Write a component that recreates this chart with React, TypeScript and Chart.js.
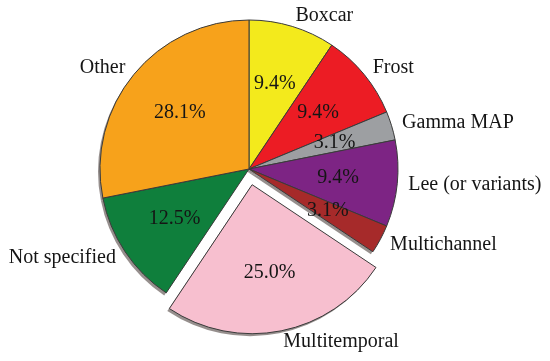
import React, { useEffect, useRef } from "react";
import { Chart, registerables } from "chart.js";
Chart.register(...registerables);

const categories = ["Boxcar", "Frost", "Gamma MAP", "Lee (or variants)", "Multichannel", "Multitemporal", "Not specified", "Other"];
const counts = [3, 3, 1, 3, 1, 8, 4, 9];
const percentLabels = ["9.4%", "9.4%", "3.1%", "9.4%", "3.1%", "25.0%", "12.5%", "28.1%"];
const colors = ["#F3EA1C", "#EC1C24", "#9D9FA2", "#7D2484", "#A62A2A", "#F7BFCF", "#0F7F3C", "#F7A21B"];
const explode = [0, 0, 0, 0, 0, 16, 0, 0];

const FONT = '"Liberation Serif", "Times New Roman", serif';

// Chart.js 4 arc draws offset/4 * (1 + (1 - sin(min(PI, circumference)))) as actual displacement
function chartOffset(i: number) {
  const total = counts.reduce((a, b) => a + b, 0);
  const c = (counts[i] / total) * Math.PI * 2;
  const fix = 1 - Math.sin(Math.min(Math.PI, c));
  return explode[i] === 0 ? 0 : (explode[i] * 4) / (1 + fix);
}

const piePlugin = {
  id: "pieDecor",
  beforeDatasetsDraw(chart: any) {
    const ctx = chart.ctx;
    const meta = chart.getDatasetMeta(0);
    ctx.save();
    ctx.fillStyle = "rgba(105,95,92,0.7)";
    meta.data.forEach((arc: any, i: number) => {
      const { x, y, startAngle, endAngle, outerRadius } = arc.getProps(["x", "y", "startAngle", "endAngle", "outerRadius"], true);
      const mid = (startAngle + endAngle) / 2;
      const off = explode[i];
      const cx = x + Math.cos(mid) * off - 2;
      const cy = y + Math.sin(mid) * off + 2.5;
      ctx.beginPath();
      ctx.moveTo(cx, cy);
      ctx.arc(cx, cy, outerRadius, startAngle, endAngle);
      ctx.closePath();
      ctx.fill();
    });
    ctx.restore();
  },
  afterDatasetsDraw(chart: any) {
    const ctx = chart.ctx;
    const meta = chart.getDatasetMeta(0);
    ctx.save();
    ctx.font = `20px ${FONT}`;
    ctx.fillStyle = "#151515";
    meta.data.forEach((arc: any, i: number) => {
      const { x, y, startAngle, endAngle, outerRadius } = arc.getProps(["x", "y", "startAngle", "endAngle", "outerRadius"], true);
      const mid = (startAngle + endAngle) / 2;
      const off = explode[i];
      const cx = x + Math.cos(mid) * off;
      const cy = y + Math.sin(mid) * off;
      ctx.textAlign = "center";
      ctx.textBaseline = "middle";
      const ri = outerRadius * 0.6;
      ctx.fillText(percentLabels[i], cx + Math.cos(mid) * ri, cy + Math.sin(mid) * ri);
      const ro = outerRadius + 11;
      const ax = cx + Math.cos(mid) * ro;
      const ay = cy + Math.sin(mid) * ro;
      ctx.textAlign = Math.cos(mid) >= 0 ? "left" : "right";
      ctx.fillText(categories[i], ax, ay);
    });
    ctx.restore();
  },
};

export default function App() {
  const ref = useRef<HTMLCanvasElement | null>(null);
  useEffect(() => {
    if (!ref.current) return;
    Chart.defaults.font.family = FONT;
    const chart = new Chart(ref.current, {
      type: "pie",
      data: {
        labels: categories,
        datasets: [
          {
            data: counts,
            backgroundColor: colors,
            borderColor: "#3a3a3a",
            borderWidth: 1,
            offset: counts.map((_, i) => chartOffset(i)),
            hoverOffset: 0,
          } as any,
        ],
      },
      options: {
        responsive: false,
        animation: false,
        radius: 149,
        layout: { padding: { left: 50, right: 102, top: 20, bottom: 43 } },
        plugins: {
          legend: { display: false },
          tooltip: { enabled: false },
        },
        events: [],
      } as any,
      plugins: [piePlugin],
    });
    return () => chart.destroy();
  }, []);
  return (
    <div style={{ position: "absolute", left: 0, top: 0, width: 550, height: 361, background: "#fff" }}>
      <canvas ref={ref} width={550} height={361} style={{ display: "block" }} />
    </div>
  );
}
